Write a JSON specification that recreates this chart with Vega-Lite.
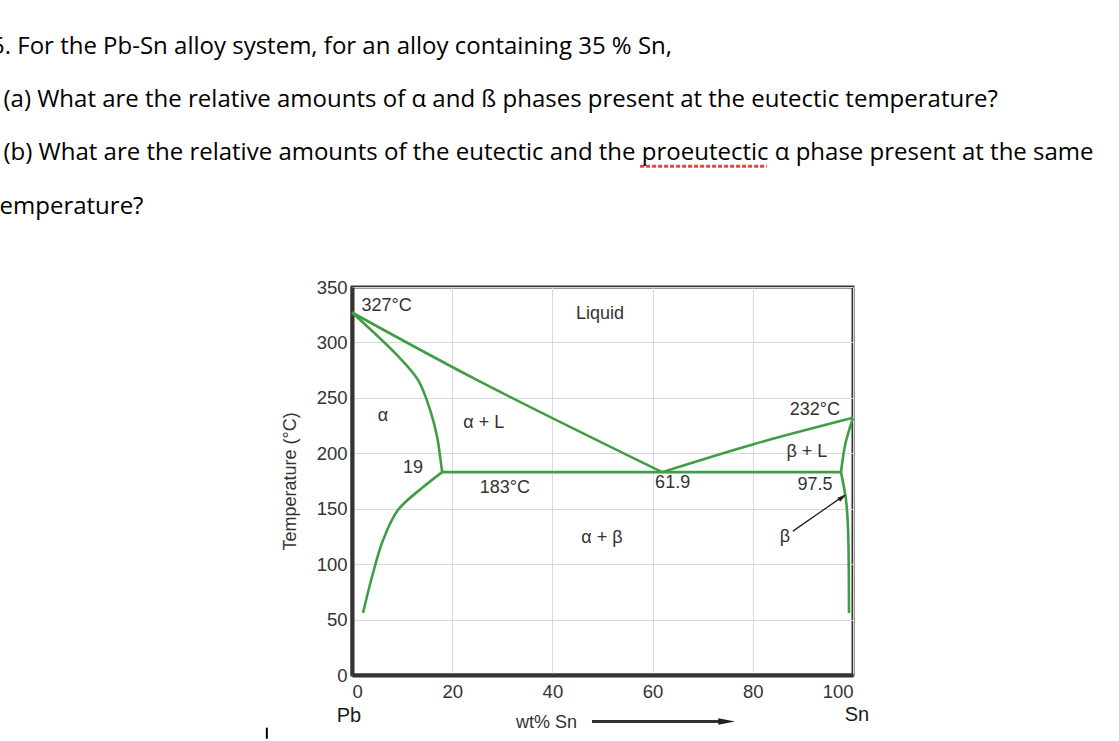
{
  "$schema": "https://vega.github.io/schema/vega-lite/v6.json",
  "autosize": "none",
  "width": 501,
  "height": 388,
  "padding": {"left": 352, "top": 287, "right": 266, "bottom": 66},
  "background": "white",
  "title": {
    "text": [
      "5. For the Pb-Sn alloy system, for an alloy containing 35 % Sn,",
      "\u200b\u00a0\u00a0(a) What are the relative amounts of α and ß phases present at the eutectic temperature?",
      "\u200b\u00a0\u00a0(b) What are the relative amounts of the eutectic and the proeutectic α phase present at the same",
      "temperature?"
    ],
    "anchor": "start",
    "frame": "group",
    "font": "Open Sans",
    "fontSize": 24,
    "fontWeight": "normal",
    "color": "#000000",
    "lineHeight": 53.3,
    "offset": 60,
    "dx": -361,
    "dy": 133,
    "baseline": "alphabetic"
  },
  "datasets": {
    "curves": [
      {"curve": "liquidus_a", "i": 0, "wt": 0, "temp": 327},
      {"curve": "liquidus_a", "i": 1, "wt": 25, "temp": 266},
      {"curve": "liquidus_a", "i": 2, "wt": 61.9, "temp": 183},
      {"curve": "solidus_a", "i": 0, "wt": 0, "temp": 327},
      {"curve": "solidus_a", "i": 1, "wt": 9, "temp": 288.5},
      {"curve": "solidus_a", "i": 2, "wt": 13.2, "temp": 266},
      {"curve": "solidus_a", "i": 3, "wt": 15.6, "temp": 239},
      {"curve": "solidus_a", "i": 4, "wt": 17, "temp": 214.6},
      {"curve": "solidus_a", "i": 5, "wt": 17.6, "temp": 196.6},
      {"curve": "solidus_a", "i": 6, "wt": 18, "temp": 183},
      {"curve": "solvus_a", "i": 0, "wt": 18, "temp": 183},
      {"curve": "solvus_a", "i": 1, "wt": 14.2, "temp": 169.5},
      {"curve": "solvus_a", "i": 2, "wt": 9.2, "temp": 149},
      {"curve": "solvus_a", "i": 3, "wt": 6.2, "temp": 121.7},
      {"curve": "solvus_a", "i": 4, "wt": 4.2, "temp": 92},
      {"curve": "solvus_a", "i": 5, "wt": 2.2, "temp": 56},
      {"curve": "eutectic", "i": 0, "wt": 18, "temp": 183},
      {"curve": "eutectic", "i": 1, "wt": 97.6, "temp": 183},
      {"curve": "liquidus_b", "i": 0, "wt": 61.9, "temp": 183},
      {"curve": "liquidus_b", "i": 1, "wt": 80, "temp": 208},
      {"curve": "liquidus_b", "i": 2, "wt": 100, "temp": 232},
      {"curve": "solidus_b", "i": 0, "wt": 100, "temp": 232},
      {"curve": "solidus_b", "i": 1, "wt": 98.5, "temp": 209},
      {"curve": "solidus_b", "i": 2, "wt": 97.6, "temp": 183},
      {"curve": "solvus_b", "i": 0, "wt": 97.6, "temp": 183},
      {"curve": "solvus_b", "i": 1, "wt": 98.6, "temp": 158},
      {"curve": "solvus_b", "i": 2, "wt": 99, "temp": 133},
      {"curve": "solvus_b", "i": 3, "wt": 99.2, "temp": 56}
    ],
    "labels": [
      {"label": "327°C", "wt": 6.9, "temp": 333},
      {"label": "Liquid", "wt": 49.5, "temp": 325.5},
      {"label": "α", "wt": 6.2, "temp": 233.5},
      {"label": "α + L", "wt": 26.3, "temp": 227},
      {"label": "19", "wt": 12.2, "temp": 186.6},
      {"label": "183°C", "wt": 30.5, "temp": 168.6},
      {"label": "61.9", "wt": 64, "temp": 173},
      {"label": "232°C", "wt": 92.4, "temp": 239},
      {"label": "β + L", "wt": 90.8, "temp": 201},
      {"label": "97.5", "wt": 92.4, "temp": 171},
      {"label": "α + β", "wt": 49.9, "temp": 123.5},
      {"label": "β", "wt": 86.4, "temp": 124.4}
    ],
    "ends": [
      {"label": "Pb", "wt": -0.6, "temp": -37},
      {"label": "Sn", "wt": 100.8, "temp": -36}
    ],
    "pointer": [
      {"what": "beta", "wt": 88, "temp": 129.8, "wt2": 98.2, "temp2": 161.8}
    ],
    "pointerHead": [
      {"what": "beta", "wt": 97.9, "temp": 160.5}
    ],
    "axisArrow": [
      {"what": "wt% Sn", "wt": 47.9, "temp": -42, "wt2": 74, "temp2": -42}
    ],
    "axisArrowHead": [
      {"what": "wt% Sn", "wt": 74.8, "temp": -42}
    ],
    "underline": [
      {"word": "proeutectic", "wt": 57.5, "temp": 459, "wt2": 82.8, "temp2": 459}
    ],
    "cursor": [
      {"what": "caret", "wt": -17, "temp": -47.5, "wt2": -17, "temp2": -57.5}
    ]
  },
  "encoding": {
    "x": {
      "field": "wt",
      "type": "quantitative",
      "scale": {"domain": [0, 100], "nice": false, "zero": false},
      "axis": {
        "title": "wt% Sn",
        "values": [0, 20, 40, 60, 80, 100],
        "labelPadding": 7,
        "titleX": 194,
        "titleY": 47,
        "titleBaseline": "middle",
        "titleFontSize": 18,
        "titleFontWeight": "normal",
        "titleColor": "#333333"
      }
    },
    "y": {
      "field": "temp",
      "type": "quantitative",
      "scale": {"domain": [0, 350], "nice": false, "zero": false},
      "axis": {
        "title": "Temperature (°C)",
        "values": [0, 50, 100, 150, 200, 250, 300, 350],
        "labelPadding": 5,
        "titlePadding": 17,
        "titleFontSize": 18,
        "titleFontWeight": "normal",
        "titleColor": "#333333"
      }
    }
  },
  "layer": [
    {
      "data": {"name": "curves"},
      "mark": {"type": "line", "color": "#3f9e45", "strokeWidth": 2.6, "interpolate": "catmull-rom"},
      "encoding": {
        "detail": {"field": "curve"},
        "order": {"field": "i", "type": "quantitative"}
      }
    },
    {
      "data": {"name": "labels"},
      "mark": {"type": "text", "font": "Liberation Sans", "fontSize": 18, "color": "#333333", "align": "center", "baseline": "middle"},
      "encoding": {"text": {"field": "label"}}
    },
    {
      "data": {"name": "ends"},
      "mark": {"type": "text", "font": "Liberation Sans", "fontSize": 20, "color": "#1a1a1a", "align": "center", "baseline": "middle"},
      "encoding": {"text": {"field": "label"}}
    },
    {
      "data": {"name": "pointer"},
      "mark": {"type": "rule", "color": "#222222", "strokeWidth": 1.3},
      "encoding": {"x2": {"field": "wt2"}, "y2": {"field": "temp2"}}
    },
    {
      "data": {"name": "pointerHead"},
      "mark": {"type": "point", "shape": "M-1,-0.55L1,0L-1,0.55Z", "filled": true, "color": "#222222", "size": 81, "angle": -35, "opacity": 1},
      "encoding": {}
    },
    {
      "data": {"name": "axisArrow"},
      "mark": {"type": "rule", "color": "#333333", "strokeWidth": 3},
      "encoding": {"x2": {"field": "wt2"}, "y2": {"field": "temp2"}}
    },
    {
      "data": {"name": "axisArrowHead"},
      "mark": {"type": "point", "shape": "M-1,-0.38L1,0L-1,0.38Z", "filled": true, "color": "#222222", "size": 289, "opacity": 1},
      "encoding": {}
    },
    {
      "data": {"name": "underline"},
      "mark": {"type": "rule", "color": "#e8463e", "strokeWidth": 3, "strokeDash": [4, 2]},
      "encoding": {"x2": {"field": "wt2"}, "y2": {"field": "temp2"}}
    },
    {
      "data": {"name": "cursor"},
      "mark": {"type": "rule", "color": "#000000", "strokeWidth": 2},
      "encoding": {"x2": {"field": "wt2"}, "y2": {"field": "temp2"}}
    }
  ],
  "config": {
    "view": {"stroke": "#333333", "strokeWidth": 3},
    "axis": {
      "labelFont": "Liberation Sans",
      "labelFontSize": 18.5,
      "labelColor": "#333333",
      "titleFont": "Liberation Sans",
      "ticks": false,
      "grid": true,
      "gridColor": "#d9d9d9",
      "gridWidth": 1,
      "domain": true,
      "domainColor": "#333333",
      "domainWidth": 4
    }
  }
}
